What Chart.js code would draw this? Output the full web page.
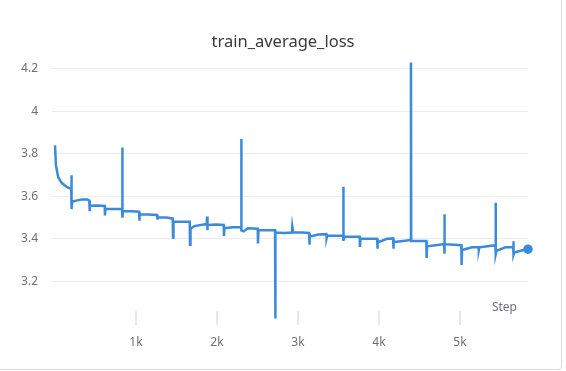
<!DOCTYPE html>
<html>
<head>
<meta charset="utf-8">
<script src="https://cdn.jsdelivr.net/npm/chart.js@4.4.1/dist/chart.umd.min.js"></script>
<style>
    html, body { margin: 0; padding: 0; background: #fff; overflow: hidden; }
    .card {
        position: absolute; left: -6px; top: -6px; width: 568px; height: 376px;
        box-sizing: border-box; border: 1px solid #dadada; border-radius: 4px;
    }
    #chart { position: absolute; left: 0; top: 0; }
</style>
</head>
<body>
<div class="card"></div>
<canvas id="chart" width="566" height="371"></canvas>
<script>
const TITLE = 'train_average_loss';
const X_LABEL = 'Step';

// step, loss
const steps = [
    0, 12, 40, 80, 125, 165, 200, 203, 206, 212, 260, 330, 400, 423, 426, 432,
    520, 614, 617, 622, 700, 828, 831, 834, 840, 950, 1038, 1041, 1047, 1150,
    1260, 1263, 1268, 1380, 1454, 1457, 1463, 1560, 1664, 1667, 1673, 1720,
    1874, 1877, 1880, 1886, 1990, 2083, 2086, 2092, 2200, 2297, 2300, 2303,
    2330, 2380, 2503, 2506, 2512, 2610, 2717, 2720, 2723, 2830, 2925, 2930,
    2940, 3050, 3137, 3140, 3146, 3250, 3351, 3354, 3360, 3557, 3560, 3563,
    3569, 3762, 3765, 3771, 3977, 3980, 3986, 4100, 4174, 4177, 4183, 4300,
    4392, 4395, 4398, 4500, 4585, 4588, 4594, 4700, 4803, 4806, 4809, 4815,
    4920, 5017, 5020, 5026, 5150, 5230, 5233, 5240, 5437, 5440, 5443, 5450,
    5560, 5657, 5660, 5663, 5670, 5760, 5840
];
const loss = [
    3.84, 3.745, 3.69, 3.665, 3.65, 3.64, 3.635, 3.70, 3.54, 3.575, 3.58, 3.585, 3.585, 3.58, 3.53, 3.556,
    3.557, 3.555, 3.51, 3.54, 3.54, 3.54, 3.83, 3.50, 3.53, 3.53, 3.528, 3.485, 3.515, 3.515,
    3.512, 3.49, 3.50, 3.50, 3.495, 3.406, 3.48, 3.48, 3.48, 3.372, 3.447, 3.46,
    3.47, 3.505, 3.44, 3.465, 3.468, 3.465, 3.414, 3.45, 3.455, 3.455, 3.87, 3.44,
    3.435, 3.45, 3.448, 3.378, 3.44, 3.44, 3.44, 3.025, 3.43, 3.428, 3.43, 3.457,
    3.43, 3.43, 3.428, 3.372, 3.41, 3.42, 3.422, 3.405, 3.415, 3.415, 3.645, 3.39,
    3.41, 3.41, 3.362, 3.40, 3.40, 3.353, 3.383, 3.40, 3.402, 3.353, 3.385, 3.39,
    3.394, 4.23, 3.39, 3.39, 3.39, 3.31, 3.365, 3.37, 3.375, 3.516, 3.33, 3.375,
    3.372, 3.37, 3.277, 3.347, 3.36, 3.36, 3.347, 3.36, 3.37, 3.57, 3.328, 3.343,
    3.36, 3.36, 3.388, 3.325, 3.335, 3.345, 3.351
];

const yTicks = [3.2, 3.4, 3.6, 3.8, 4, 4.2];
const xTicks = [1000, 2000, 3000, 4000, 5000];
const xTickLabels = ['1k', '2k', '3k', '4k', '5k'];

const LINE = '#3b8bd9';
const TEXT = '#707078';
const FONT = "'Noto Sans', sans-serif";

// title centred on the whole card, "Step" caption in the lower right of the plot
const captions = {
    id: 'captions',
    afterDraw(chart) {
        const { ctx, chartArea, width } = chart;
        ctx.save();
        ctx.textBaseline = 'middle';
        ctx.font = '16.5px ' + FONT;
        ctx.fillStyle = '#3a3a3a';
        ctx.textAlign = 'center';
        ctx.fillText(TITLE, width / 2, 42);
        ctx.font = '12px ' + FONT;
        ctx.fillStyle = TEXT;
        ctx.textAlign = 'right';
        ctx.fillText(X_LABEL, chartArea.right - 11, chartArea.bottom - 3);
        ctx.restore();
    }
};

const lastIdx = steps.length - 1;

new Chart(document.getElementById('chart'), {
    type: 'line',
    data: {
        datasets: [{
            data: steps.map((s, i) => ({ x: s, y: loss[i] })),
            borderColor: LINE,
            backgroundColor: LINE,
            borderWidth: 2.5,
            tension: 0,
            clip: false,
            pointRadius: c => c.dataIndex === lastIdx ? 3.5 : 0,
            pointHoverRadius: 0
        }]
    },
    options: {
        responsive: false,
        animation: false,
        devicePixelRatio: 1,
        layout: { padding: { left: 0, right: 38, top: 60.5, bottom: 0 } },
        plugins: {
            legend: { display: false },
            tooltip: { enabled: false },
            title: { display: false }
        },
        scales: {
            x: {
                type: 'linear',
                min: -37,
                max: 5840,
                border: { display: false },
                grid: { drawOnChartArea: false, drawTicks: true, tickLength: 14, color: '#e8e8e8', lineWidth: 2 },
                ticks: {
                    color: TEXT,
                    padding: 10,
                    maxRotation: 0,
                    font: { family: FONT, size: 12 },
                    callback: v => xTickLabels[xTicks.indexOf(v)] ?? ''
                },
                afterBuildTicks: s => { s.ticks = xTicks.map(v => ({ value: v })); },
                afterFit: s => { s.height = 60; }
            },
            y: {
                min: 3.06,
                max: 4.24,
                border: { display: false },
                grid: { color: '#ededed', drawTicks: false },
                ticks: {
                    color: TEXT,
                    padding: 14,
                    font: { family: FONT, size: 12 },
                    callback: v => String(v)
                },
                afterBuildTicks: s => { s.ticks = yTicks.map(v => ({ value: v })); },
                afterFit: s => { s.width = 52; }
            }
        }
    },
    plugins: [captions]
});
</script>
</body>
</html>
